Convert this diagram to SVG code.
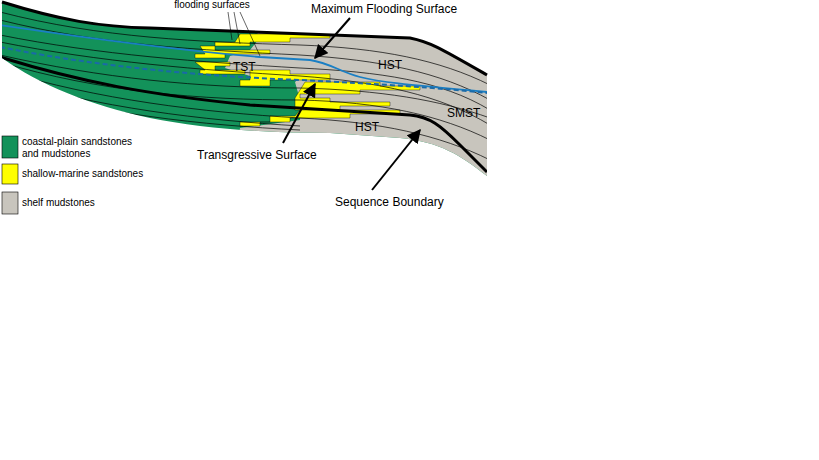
<svg xmlns="http://www.w3.org/2000/svg" width="819" height="460" viewBox="0 0 819 460">
<style>
.t{font-family:"Liberation Sans",Arial,sans-serif;fill:#000}
.thin{fill:none;stroke:#000;stroke-width:0.7}
.y{fill:#ffff00;stroke:#000;stroke-width:0.4}
.g{fill:#c8c5bd}
</style>
<defs>
<clipPath id="body"><path d="M2,2 C60,20 100,27 150,28 L410,38 C430,42 440,48 487,75 L487,176 C460,155 440,142 400,138 L330,133 C260,133 200,128 150,118 C90,105 40,85 2,58 Z"/></clipPath>
<marker id="ah" viewBox="0 0 10 10" refX="9" refY="5" markerWidth="7" markerHeight="7" orient="auto"><path d="M0,0 L10,5 L0,10 Z" fill="#000"/></marker>
</defs>
<rect width="819" height="460" fill="#fff"/>
<g id="section" clip-path="url(#body)">
<rect x="0" y="0" width="490" height="180" fill="#13925a"/>
<path class="g" d="M255,0 L490,0 L490,180 L230,180 L240,128 L300,120 L300,100 L295,82 L300,78 L250,76 L225,68 L230,56 L250,50 L258,40 Z"/>
<g id="yellow">
<path class="y" d="M240,34 L330,34 L330,38 L290,38 L290,42 L250,42 L250,46 L215,46 L215,42 L235,42 Z"/>
<path class="y" d="M200,46 L215,46 L215,50 L270,50 L270,54 L225,54 L225,58 L195,58 L195,54 L205,54 Z"/>
<path class="y" d="M195,62 L230,62 L230,66 L215,66 L215,70 L245,70 L245,74 L200,74 L200,70 L205,70 Z"/>
<path class="y" d="M250,70 L290,70 L290,74 L330,74 L330,80 L270,80 L270,86 L240,86 L240,80 L250,80 Z"/>
<path class="y" d="M305,82 L380,82 L380,86 L420,86 L420,90 L360,90 L360,94 L300,94 L300,98 L330,98 L330,102 L390,102 L390,106 L340,106 L340,110 L295,110 L295,98 Z"/>
<path class="y" d="M300,110 L400,110 L400,114 L350,114 L350,118 L290,118 L290,122 L260,122 L260,126 L240,126 L240,122 L270,122 L270,116 L295,116 Z"/>
</g>
<g id="layers" class="thin">
<path d="M0,12 C100,38 200,42 300,45 C380,48 440,60 490,85"/>
<path d="M0,20 C100,45 200,50 300,55 C380,60 440,72 490,100"/>
<path d="M0,35 C100,55 200,62 300,68 C380,72 440,80 490,110"/>
<path d="M0,42 C100,62 200,70 300,76 C380,82 440,95 490,125"/>
<path d="M0,55 C100,78 200,88 300,88 C380,90 440,100 490,118"/>
<path d="M0,62 C100,92 200,100 300,100 C380,102 440,115 490,140"/>
<path d="M0,70 C100,100 200,112 300,118 C380,122 440,135 490,160"/>
<path d="M0,78 C100,108 200,120 300,126"/>
<path d="M0,85 C100,114 200,125 300,130"/>
</g>
<path d="M0,25 C100,40 200,52 260,57 L310,60 C330,63 340,72 360,77 C380,82 400,84 487,92" fill="none" stroke="#1a7fc4" stroke-width="1.8"/>
<path d="M0,47 C100,67 200,76 300,80 C380,84 440,88 487,93" fill="none" stroke="#1a6aa8" stroke-width="2" stroke-dasharray="5,3"/>
<path d="M0,57 C80,82 150,95 250,105 L410,115 C430,117 440,125 460,145 L487,172" fill="none" stroke="#000" stroke-width="3"/>
</g>
<path id="topline" d="M2,2 C60,20 100,27 150,28 L410,38 C430,42 440,48 487,75" fill="none" stroke="#000" stroke-width="3"/>
<g id="connectors" fill="none" stroke="#000">
<path d="M228,12 L232,40 M234,12 L240,44 M240,12 L260,56" stroke-width="0.6"/>
<path d="M350,18 L315,58" stroke-width="2" marker-end="url(#ah)"/>
<path d="M283,143 L315,84" stroke-width="2" marker-end="url(#ah)"/>
<path d="M372,190 L420,130" stroke-width="2" marker-end="url(#ah)"/>
</g>
<g id="labels" font-size="12">
<text class="t" x="212" y="8" font-size="10" text-anchor="middle">flooding surfaces</text>
<text class="t" x="311" y="13">Maximum Flooding Surface</text>
<text class="t" x="233" y="71">TST</text>
<text class="t" x="378" y="69">HST</text>
<text class="t" x="447" y="117">SMST</text>
<text class="t" x="355" y="131">HST</text>
<text class="t" x="197" y="159">Transgressive Surface</text>
<text class="t" x="335" y="206">Sequence Boundary</text>
</g>
<g id="legend" font-size="10">
<rect x="2" y="136" width="16" height="22" fill="#13925a" stroke="#000" stroke-width="0.6"/>
<rect x="2" y="164" width="16" height="20" fill="#ffff00" stroke="#000" stroke-width="0.6"/>
<rect x="2" y="192" width="16" height="22" fill="#c8c5bd" stroke="#000" stroke-width="0.6"/>
<text class="t" x="22" y="145">coastal-plain sandstones</text>
<text class="t" x="22" y="157">and mudstones</text>
<text class="t" x="22" y="177">shallow-marine sandstones</text>
<text class="t" x="22" y="206">shelf mudstones</text>
</g>
</svg>
